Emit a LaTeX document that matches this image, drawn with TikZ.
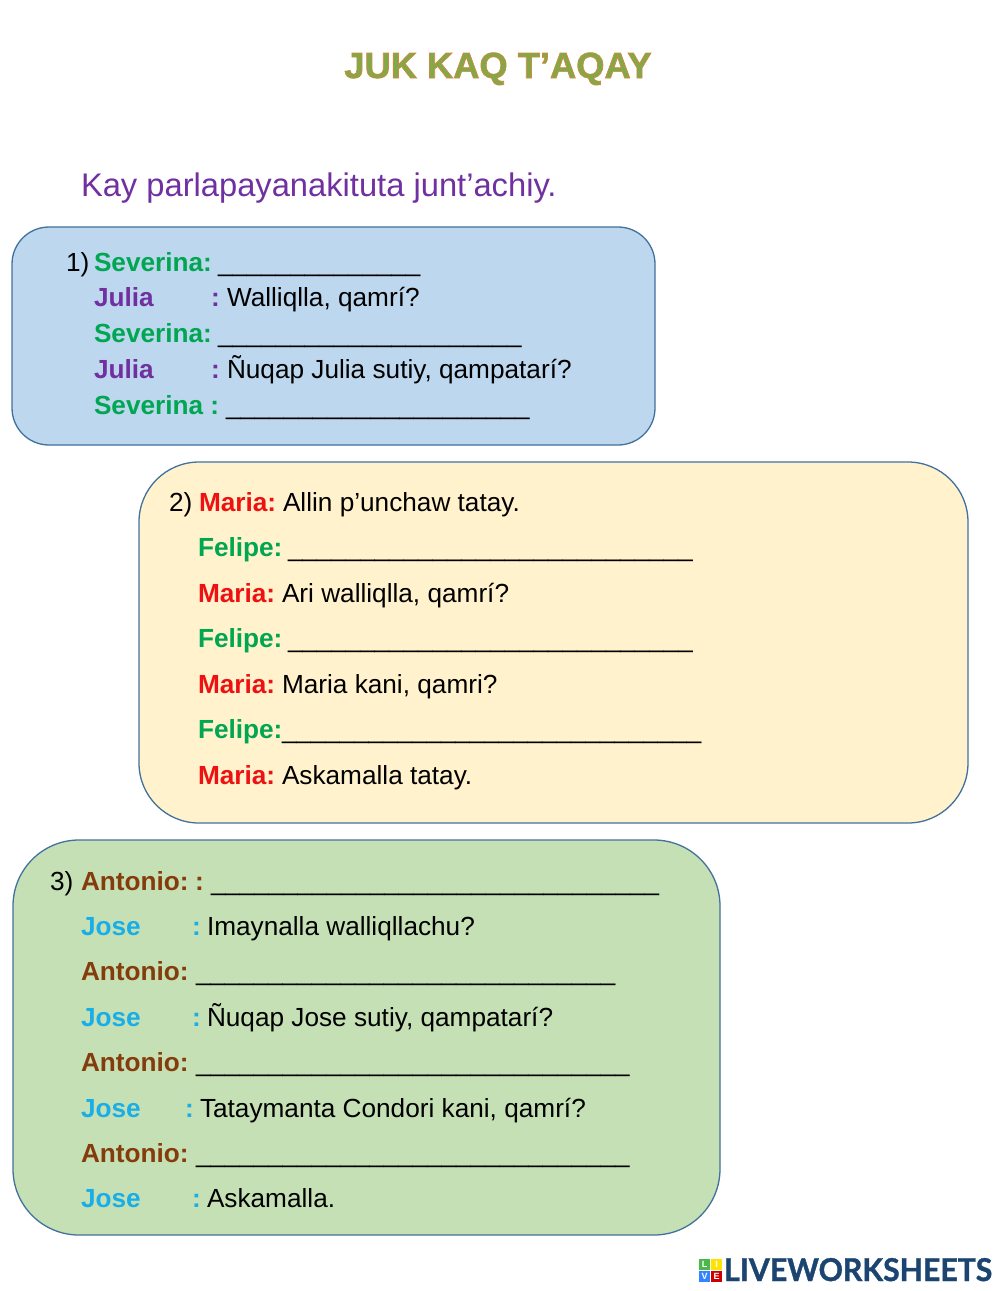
\documentclass[tikz,border=0pt]{standalone}
\usepackage{fontspec}
\setmainfont{Liberation Sans}
\newfontfamily\logofont{Lato}[BoldFeatures={FakeBold=1.2}]
\definecolor{cBlue}{HTML}{BDD7EE}
\definecolor{cYellow}{HTML}{FFF2CC}
\definecolor{cGreen}{HTML}{C5E0B4}
\definecolor{cEdge}{HTML}{41719C}
\definecolor{nGreen}{HTML}{00A651}
\definecolor{nPurple}{HTML}{7030A0}
\definecolor{nRed}{HTML}{EE1111}
\definecolor{nBrown}{HTML}{843C0C}
\definecolor{nSky}{HTML}{19AEE8}
\definecolor{tOlive}{HTML}{84A848}
\definecolor{logoBlue}{HTML}{1B4470}
\newcommand{\blankline}[1]{{\fontsize{26}{30}\selectfont\foreach \i in {1,...,#1}{\_}}}
\newcommand{\outlined}[1]{\special{pdf:code 2 Tr 0.7 w 0.82 0.54 0.24 RG}#1\special{pdf:code 0 Tr 0 w}}
\tikzset{
  x=1pt,y=-1pt,
  card/.style={draw=cEdge,line width=1.3pt},
  txt/.style={anchor=base west,inner sep=0pt,outer sep=0pt,font=\fontsize{26.2}{30}\selectfont,text=black},
  who/.style={txt,font=\fontsize{26.2}{30}\selectfont\bfseries,text=#1},
  square/.style={minimum size=11.5pt,inner sep=0pt,font=\fontsize{9}{9}\selectfont\bfseries,text=white},
}
\begin{document}
\begin{tikzpicture}
\useasboundingbox (0,0) rectangle (1000,1291);
% title
\node[anchor=base,inner sep=0pt,font=\fontsize{36.3}{40}\selectfont\bfseries,text=tOlive] (title) at (498,78) {\outlined{JUK KAQ T’AQAY}};
\node[txt,font=\fontsize{32.7}{38}\selectfont,text=nPurple] (task) at (81,196) {Kay parlapayanakituta junt’achiy.};
% cards
\draw[card,fill=cBlue,rounded corners=37pt] (12,227) rectangle (655,445);
\draw[card,fill=cYellow,rounded corners=60pt] (139,462) rectangle (968,823);
\draw[card,fill=cGreen,rounded corners=66pt] (13,840) rectangle (720,1235);
% dialogue 1
\node[txt] (a0) at (66,271) {1)};
\node[who=nGreen] (a1) at (94,271) {Severina:};
\node[txt] (a1b) at (218,271) {\blankline{14}};
\node[who=nPurple] (a2) at (94,306) {Julia};
\node[who=nPurple] (a2c) at (211,306) {:};
\node[txt] (a2b) at (227,306) {Walliqlla, qamrí?};
\node[who=nGreen] (a3) at (94,342) {Severina:};
\node[txt] (a3b) at (218,342) {\blankline{21}};
\node[who=nPurple] (a4) at (94,378) {Julia};
\node[who=nPurple] (a4c) at (211,378) {:};
\node[txt] (a4b) at (227,378) {Ñuqap Julia sutiy, qampatarí?};
\node[who=nGreen] (a5) at (94,414) {Severina :};
\node[txt] (a5b) at (226,414) {\blankline{21}};
% dialogue 2
\node[txt] (b0) at (169,511) {2)};
\node[who=nRed] (b1) at (199,511) {Maria:};
\node[txt] (b1b) at (283,511) {Allin p’unchaw tatay.};
\node[who=nGreen] (b2) at (198,556) {Felipe:};
\node[txt] (b2b) at (288,556) {\blankline{28}};
\node[who=nRed] (b3) at (198,602) {Maria:};
\node[txt] (b3b) at (282,602) {Ari walliqlla, qamrí?};
\node[who=nGreen] (b4) at (198,647) {Felipe:};
\node[txt] (b4b) at (288,647) {\blankline{28}};
\node[who=nRed] (b5) at (198,693) {Maria:};
\node[txt] (b5b) at (282,693) {Maria kani, qamri?};
\node[who=nGreen] (b6) at (198,738) {Felipe:};
\node[txt] (b6b) at (282,738) {\blankline{29}};
\node[who=nRed] (b7) at (198,784) {Maria:};
\node[txt] (b7b) at (282,784) {Askamalla tatay.};
% dialogue 3
\node[txt] (c0) at (50,890) {3)};
\node[who=nBrown] (c1) at (81,890) {Antonio:};
\node[who=nBrown] (c1c) at (195,890) {:};
\node[txt] (c1b) at (211,890) {\blankline{31}};
\node[who=nSky] (c2) at (81,935) {Jose};
\node[who=nSky] (c2c) at (192,935) {:};
\node[txt] (c2b) at (207,935) {Imaynalla walliqllachu?};
\node[who=nBrown] (c3) at (81,980) {Antonio:};
\node[txt] (c3b) at (196,980) {\blankline{29}};
\node[who=nSky] (c4) at (81,1026) {Jose};
\node[who=nSky] (c4c) at (192,1026) {:};
\node[txt] (c4b) at (207,1026) {Ñuqap Jose sutiy, qampatarí?};
\node[who=nBrown] (c5) at (81,1071) {Antonio:};
\node[txt] (c5b) at (196,1071) {\blankline{30}};
\node[who=nSky] (c6) at (81,1117) {Jose};
\node[who=nSky] (c6c) at (185,1117) {:};
\node[txt] (c6b) at (200,1117) {Tataymanta Condori kani, qamrí?};
\node[who=nBrown] (c7) at (81,1162) {Antonio:};
\node[txt] (c7b) at (196,1162) {\blankline{30}};
\node[who=nSky] (c8) at (81,1207) {Jose};
\node[who=nSky] (c8c) at (192,1207) {:};
\node[txt] (c8b) at (207,1207) {Askamalla.};
% logo
\node[square,fill=green!60!black!70] (l1) at (704.5,1264.5) {L};
\node[square,fill=yellow!85!orange] (l2) at (716.5,1264.5) {I};
\node[square,fill=blue!60!cyan!80] (l3) at (704.5,1276.5) {V};
\node[square,fill=red!80!black] (l4) at (716.5,1276.5) {E};
\node[anchor=base west,inner sep=0pt,text=logoBlue] (logo) at (724,1281) {\resizebox{268pt}{23pt}{\logofont\bfseries LIVEWORKSHEETS}};
\end{tikzpicture}
\end{document}
